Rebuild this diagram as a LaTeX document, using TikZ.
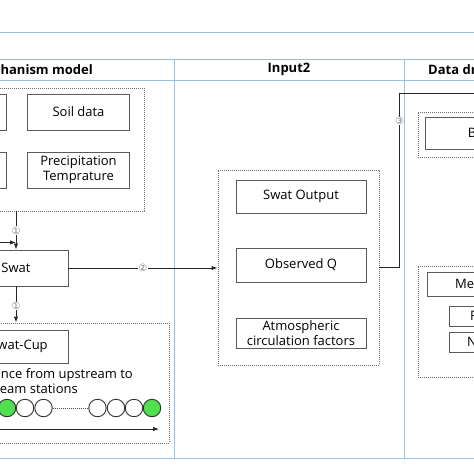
\documentclass[tikz,border=0pt]{standalone}
\usepackage{fontspec}
\setmainfont{Open Sans}
\newfontfamily\symf{DejaVu Sans}
\usetikzlibrary{arrows.meta}
\definecolor{lblue}{HTML}{9CC3DE}
\definecolor{boxc}{HTML}{5A5A5A}
\definecolor{dotc}{HTML}{6E6E6E}
\definecolor{gfill}{HTML}{4FE04F}
\tikzset{
  blueline/.style={draw=lblue, line width=1pt},
  hdr/.style={font=\bfseries\fontsize{13}{15}\selectfont, inner sep=0pt},
  dotbox/.style={draw=dotc, line width=0.9pt, dash pattern=on 0.7pt off 1.3pt, minimum width=#1},
  box/.style={draw=boxc, line width=0.8pt, font=\fontsize{13}{15}\selectfont, align=center, inner sep=1pt},
  txt/.style={font=\fontsize{13}{15}\selectfont, inner sep=0pt},
  conn/.style={draw=black!85, line width=1pt},
  arr/.style={conn, -{Latex[length=6pt,width=4.5pt]}},
  cnum/.style={font=\symf\fontsize{10}{10}\selectfont, text=black!50, fill=white, inner sep=0.3pt},
  stn/.style={circle, draw=black!80, line width=0.9pt, minimum size=17.5pt, inner sep=0pt, fill=white},
  gstn/.style={stn, fill=gfill}
}
\begin{document}
\begin{tikzpicture}[x=1pt,y=-1pt]
\useasboundingbox (0,0) rectangle (474,474);
\clip (0,0) rectangle (474,474);
\fill[white] (0,0) rectangle (474,474);
% frame lines
\draw[blueline] (0,32) -- (474,32);
\draw[blueline] (0,59) -- (474,59);
\draw[blueline] (0,80) -- (474,80);
\draw[blueline] (0,458) -- (474,458);
\draw[blueline] (174,59) -- (174,458);
\draw[blueline] (404,59) -- (404,458);
% headers
\node[hdr, anchor=east] (h1) at (93,69.5) {Mechanism model};
\node[hdr] (h2) at (289,69.5) {Input2};
\node[hdr, anchor=west] (h3) at (428,69.5) {Data driven model};
% left top group
\node[dotbox=174pt, minimum height=123pt] (g1) at (57,149.5) {};
\node[box, minimum width=102pt, minimum height=36pt] (soil) at (78.5,112) {Soil data};
\node[box, minimum width=102pt, minimum height=36pt] (prec) at (78.5,170) {Precipitation\\Temprature};
\node[box, minimum width=70pt, minimum height=36pt] (la) at (-29,112) {};
\node[box, minimum width=70pt, minimum height=36pt] (lb) at (-29,170) {};
% swat
\node[box, minimum width=104pt, minimum height=36pt] (swat) at (16,268) {Swat};
\draw[arr] (g1.south -| swat.north) -- node[cnum, pos=0.5] {①} (swat.north);
\coordinate (lin) at (-20,242.5);
\draw[arr] (lin) -- (lin -| swat.north);
% lower left group
\node[dotbox=199pt, minimum height=120pt] (g2) at (69.5,383) {};
\draw[arr] (swat.south) -- node[cnum, pos=0.55] {①} (swat.south |- g2.north);
\node[box, minimum width=98pt, minimum height=33pt] (cup) at (19,346.5) {Swat-Cup};
\node[txt, anchor=base east] (d1) at (133,378) {Distance from upstream to};
\node[txt, anchor=base east] (d2) at (78,393.5) {downstream stations};
\node[gstn] (s1) at (7,408) {};
\node[stn] (s2) at (25,408) {};
\node[stn] (s3) at (43.5,408) {};
\node[stn] (s4) at (97.5,408) {};
\node[stn] (s5) at (116,408) {};
\node[stn] (s6) at (134,408) {};
\node[gstn] (s7) at (152,408) {};
\draw[draw=black!70, line width=0.8pt, dash pattern=on 0.8pt off 1.2pt] (s3.east) -- (s4.west);
\coordinate (al) at (-20,429);
\coordinate (ar) at (159,429);
\draw[arr] (al) -- (ar);
% middle group
\node[dotbox=161pt, minimum height=195pt] (g3) at (298.5,267.5) {};
\draw[arr] (swat.east) -- node[cnum, pos=0.5] {②} (swat.east -| g3.west);
\node[box, minimum width=130pt, minimum height=33pt] (so) at (301,196.5) {Swat Output};
\node[box, minimum width=130pt, minimum height=34pt] (oq) at (301,265) {Observed Q};
\node[box, minimum width=130pt, minimum height=30pt] (ac) at (301,333) {Atmospheric\\circulation factors};
\coordinate (k1) at (399.5,93);
\coordinate (k2) at (490,93);
\draw[conn] (g3.east) -| node[cnum, pos=0.92] {③} (k1) -- (k2);
% right groups
\node[dotbox=100pt, minimum height=45pt] (g4) at (468,134.5) {};
\node[box, minimum width=101pt, minimum height=32pt] (bp) at (476,133) {BP};
\node[dotbox=100pt, minimum height=111pt] (g5) at (468,321.5) {};
\node[box, minimum width=110pt, minimum height=24pt] (me) at (482,284) {Methods};
\node[box, minimum width=80pt, minimum height=20pt] (f1) at (489,316) {Factor};
\node[box, minimum width=70pt, minimum height=20pt] (n1) at (484,342) {NARX};
\end{tikzpicture}
\end{document}
